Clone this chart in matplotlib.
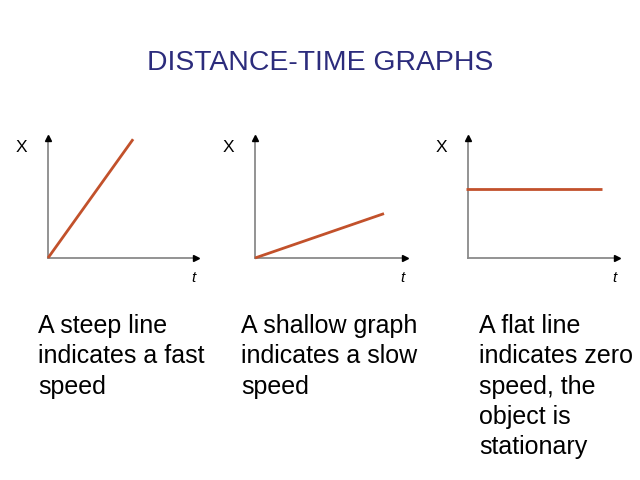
import matplotlib.pyplot as plt

plt.rcParams['font.family'] = ['Liberation Sans', 'DejaVu Sans']

# data read from the three sketches (t and x in arbitrary units, axes 0..10)
steep_t = [0.0, 5.75]
steep_x = [0.0, 9.9]
shallow_t = [0.0, 8.6]
shallow_x = [0.0, 3.7]
flat_t = [-0.15, 9.0]
flat_x = [5.75, 5.75]

captions = [
    "A steep line\nindicates a fast\nspeed",
    "A shallow graph\nindicates a slow\nspeed",
    "A flat line\nindicates zero\nspeed, the\nobject is\nstationary",
]

title_color = "#2c2c7c"
line_color = "#c2512b"
axis_color = "#8a8a8a"

fig = plt.figure(figsize=(6.4, 4.8), dpi=100)
fig.patch.set_facecolor("white")

fig.text(0.5, 1 - 63 / 480, "DISTANCE-TIME GRAPHS", ha="center", va="center",
         fontsize=20.4, color=title_color)

# axes positions in pixels: left, right (bottom 258, top 138)
panels = [
    (48, 196, steep_t, steep_x),
    (255, 405, shallow_t, shallow_x),
    (468, 617, flat_t, flat_x),
]
text_left = [38, 241, 479]

for (left, right, t, x), tx, cap in zip(panels, text_left, captions):
    ax = fig.add_axes([left / 640, 1 - 258 / 480, (right - left) / 640, 120 / 480])
    ax.set_xlim(0, 10)
    ax.set_ylim(0, 10)
    for s in ax.spines.values():
        s.set_visible(False)
    ax.set_xticks([])
    ax.set_yticks([])
    ax.patch.set_alpha(0)

    # axis lines with arrow heads
    ax.plot([0, 1], [0, 0], color=axis_color, lw=1.3, transform=ax.transAxes, clip_on=False)
    ax.plot([0, 0], [0, 1], color=axis_color, lw=1.3, transform=ax.transAxes, clip_on=False)
    ax.plot(1, 0, ">", color="black", ms=4, transform=ax.transAxes, clip_on=False)
    ax.plot(0, 1, "^", color="black", ms=4, transform=ax.transAxes, clip_on=False)

    ax.plot(t, x, color=line_color, lw=2, solid_capstyle="butt", clip_on=False)

    w = right - left
    ax.text(-27 / w, 110 / 120, "X", transform=ax.transAxes,
            ha="center", va="center", fontsize=12.5)
    ax.text(1 - 3 / w, -20 / 120, "t", transform=ax.transAxes,
            ha="center", va="center", fontsize=11, style="italic")

    fig.text(tx / 640, 1 - 314 / 480, cap, ha="left", va="top", fontsize=18,
             linespacing=1.33, color="black")

fig.savefig("out.png", dpi=100, facecolor="white")
